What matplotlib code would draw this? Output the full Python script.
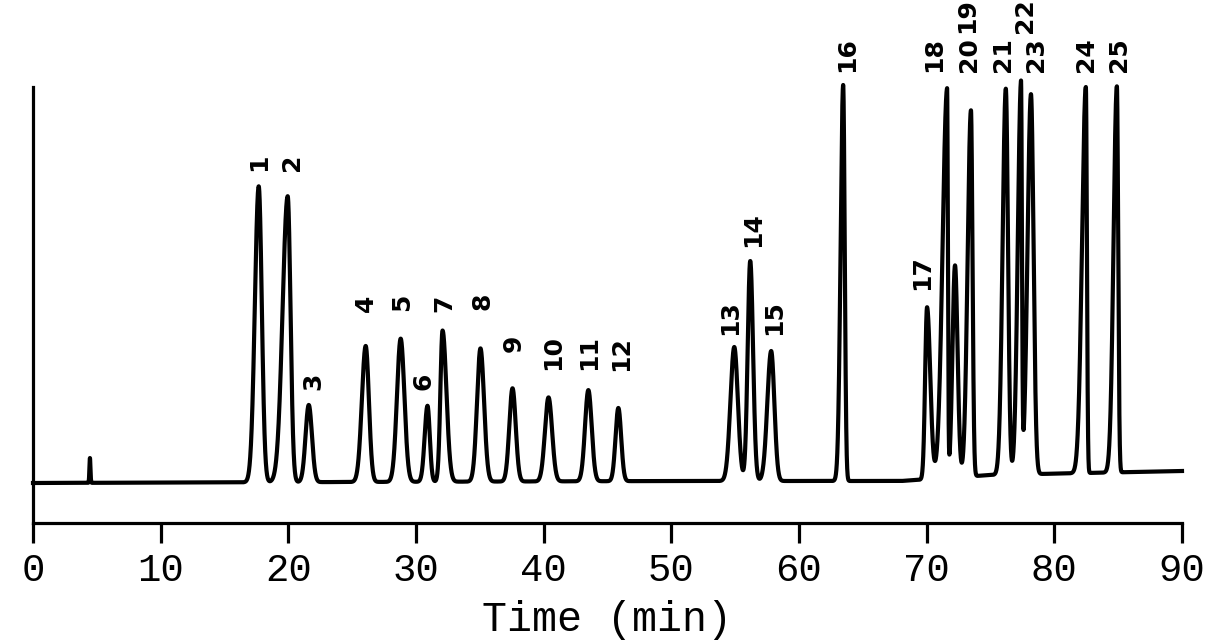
import numpy as np
import matplotlib
matplotlib.use("Agg")
import matplotlib.pyplot as plt

# ---- data ----
peak_labels = ["", "1", "2", "3", "4", "5", "6", "7", "8", "9", "10", "11", "12",
               "13", "14", "15", "16", "17", "18", "19", "20", "21", "22", "23", "24", "25"]
retention_time = [4.46, 17.68, 19.95, 21.6, 26.06, 28.8, 30.9, 32.08, 35.05, 37.56, 40.38,
                  43.5, 45.85, 54.93, 56.18, 57.82, 63.46, 70.03, 71.6, 72.22, 73.47,
                  76.2, 77.39, 78.17, 82.47, 84.9]
peak_height = [6.2, 74.0, 71.5, 19.3, 34.0, 35.8, 19.0, 37.8, 33.3, 23.3, 21.0,
               22.8, 18.3, 33.5, 55.0, 32.5, 99.0, 43.0, 97.0, 53.0, 91.5,
               96.5, 97.0, 95.0, 96.5, 96.5]
sigma_left = [0.04, 0.30, 0.40, 0.25, 0.30, 0.29, 0.22, 0.17, 0.27, 0.25, 0.28,
              0.26, 0.22, 0.30, 0.20, 0.30, 0.20, 0.15, 0.35, 0.20, 0.26,
              0.25, 0.25, 0.27, 0.30, 0.26]
sigma_right = [0.04, 0.24, 0.22, 0.25, 0.25, 0.29, 0.18, 0.30, 0.28, 0.25, 0.28,
               0.26, 0.22, 0.28, 0.22, 0.25, 0.12, 0.25, 0.06, 0.20, 0.12,
               0.17, 0.07, 0.20, 0.08, 0.10]
label_time = [None, 17.68, 20.27, 21.99, 26.06, 28.87, 30.6, 32.24, 35.2, 37.64, 40.77,
              43.58, 46.09, 54.62, 56.42, 58.06, 63.77, 69.64, 70.58, 73.16, 73.32,
              75.98, 77.7, 78.56, 82.47, 85.05]
label_level = [None, 78.0, 78.0, 23.25, 42.75, 43.0, 23.25, 42.75, 43.25, 32.75, 28.25,
               28.25, 28.0, 37.0, 59.0, 37.0, 102.75, 48.25, 102.75, 112.5, 102.75,
               102.75, 112.5, 102.75, 102.75, 102.75]
baseline_time = [0, 50, 68, 75, 90]
baseline_level = [0.0, 0.5, 0.5, 2.0, 3.0]
x_ticks = [0, 10, 20, 30, 40, 50, 60, 70, 80, 90]
x_label = "Time (min)"

# ---- build trace ----
t = np.linspace(0, 90, 18001)
signal = np.interp(t, baseline_time, baseline_level)
for rt, h, sl, sr in zip(retention_time, peak_height, sigma_left, sigma_right):
    s = np.where(t < rt, sl, sr)
    signal = signal + h * np.exp(-0.5 * ((t - rt) / s) ** 2)

# ---- figure ----
W, H = 1216, 642
fig = plt.figure(figsize=(W / 100, H / 100), dpi=100)
ax = fig.add_axes([33 / W, 119 / H, (1182 - 33) / W, 436 / H])
ax.plot(t, signal, color="black", lw=3.0, clip_on=False, solid_joinstyle="round")
ax.set_xlim(0, 90)
ax.set_ylim(-10, 99)

for sp in ["top", "right"]:
    ax.spines[sp].set_visible(False)
for sp in ["left", "bottom"]:
    ax.spines[sp].set_linewidth(2.3)
ax.set_yticks([])
ax.set_xticks(x_ticks)
ax.set_xticklabels([str(v) for v in x_ticks], fontfamily="Liberation Mono", fontsize=28)
ax.tick_params(axis="x", direction="out", length=14.5, width=2.3, pad=7)
ax.set_xlabel(x_label, fontfamily="Liberation Mono", fontsize=30, labelpad=8)

for lab, lt, ll in zip(peak_labels, label_time, label_level):
    if not lab:
        continue
    ax.text(lt, ll, lab, rotation=90, ha="center", va="bottom",
            fontsize=18, fontfamily="DejaVu Sans", fontweight="bold", clip_on=False)

fig.savefig("out.png", dpi=100)
